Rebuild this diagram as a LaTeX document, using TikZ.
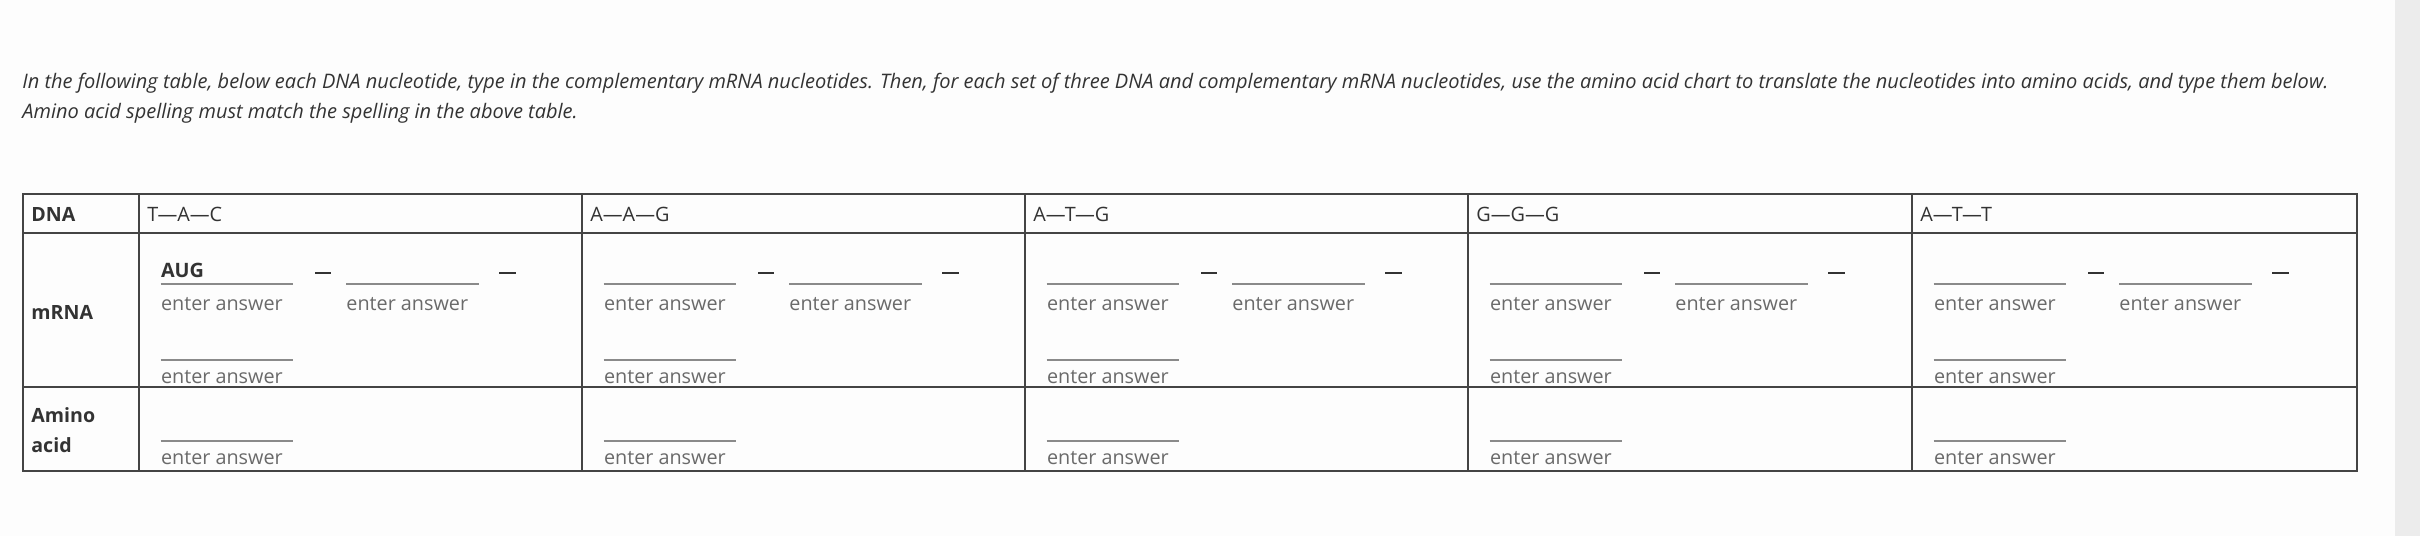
\documentclass[tikz,border=0pt]{standalone}
\usepackage{fontspec}
\setmainfont{Open Sans}
\definecolor{bg}{HTML}{FDFDFD}
\definecolor{bar}{HTML}{ECECEC}
\definecolor{grid}{HTML}{444444}
\definecolor{txt}{HTML}{333333}
\definecolor{hint}{HTML}{6A6A6A}
\definecolor{uline}{HTML}{8A8A8A}
\tikzset{
  lbl/.style={anchor=west,inner sep=0pt,text=txt,font=\fontsize{9.8pt}{11pt}\selectfont\bfseries},
  hdr/.style={anchor=west,inner sep=0pt,text=txt,font=\fontsize{9.9pt}{11pt}\selectfont},
  hintt/.style={anchor=west,inner sep=0pt,text=hint,font=\fontsize{9.9pt}{11pt}\selectfont},
  ans/.style={anchor=west,inner sep=0pt,text=txt,font=\fontsize{9.9pt}{11pt}\selectfont\bfseries},
  ul/.style={draw=uline,line width=0.6pt},
  dsh/.style={draw=txt,line width=0.8pt},
  instr/.style={anchor=west,inner sep=0pt,text=txt,font=\fontsize{10pt}{11pt}\selectfont\itshape}
}
\begin{document}
\begin{tikzpicture}[x=0.5pt,y=-0.5pt]
\useasboundingbox (0,0) rectangle (2420,536);
\fill[bg] (0,0) rectangle (2420,536);
\fill[bar] (2395,0) rectangle (2420,536);
\node[instr] (i1) at (22,83) {In the following table, below each DNA nucleotide, type in the complementary mRNA nucleotides. Then, for each set of three DNA and complementary mRNA nucleotides, use the amino acid chart to translate the nucleotides into amino acids, and type them below.};
\node[instr] (i2) at (22,113) {Amino acid spelling must match the spelling in the above table.};
% grid
\draw[grid,line width=0.7pt] (23,233) -- (2357,233) (23,387) -- (2357,387);
\foreach \x in {139,582,1025,1468,1912} \draw[grid,line width=0.7pt] (\x,194) -- (\x,471);
\draw[grid,line width=1.3pt] (23,194) rectangle (2357,471);
% labels
\node[lbl] (ldna) at (31,214) {DNA};
\node[lbl] (lmrna) at (31,312) {mRNA};
\node[lbl] (lam1) at (31,415) {Amino};
\node[lbl] (lam2) at (31,445) {acid};
\foreach \x/\s [count=\i] in {139/T---A---C,582/A---A---G,1025/A---T---G,1468/G---G---G,1912/A---T---T}{
  \node[hdr] (h\i) at (\x+8,214) {\s};
  \draw[ul] (\x+21.6,284) -- (\x+154,284);
  \draw[ul] (\x+207,284) -- (\x+340,284);
  \draw[dsh] (\x+176,273) -- (\x+192,273);
  \draw[dsh] (\x+360,273) -- (\x+377,273);
  \node[hintt] (ea\i) at (\x+21.6,304) {enter answer};
  \node[hintt] (eb\i) at (\x+207,304) {enter answer};
  \draw[ul] (\x+21.6,360) -- (\x+154,360);
  \node[hintt] (ec\i) at (\x+21.6,377) {enter answer};
  \draw[ul] (\x+21.6,441) -- (\x+154,441);
  \node[hintt] (ed\i) at (\x+21.6,458) {enter answer};
}
\node[ans] (aug) at (160.6,270) {AUG};
\end{tikzpicture}
\end{document}
